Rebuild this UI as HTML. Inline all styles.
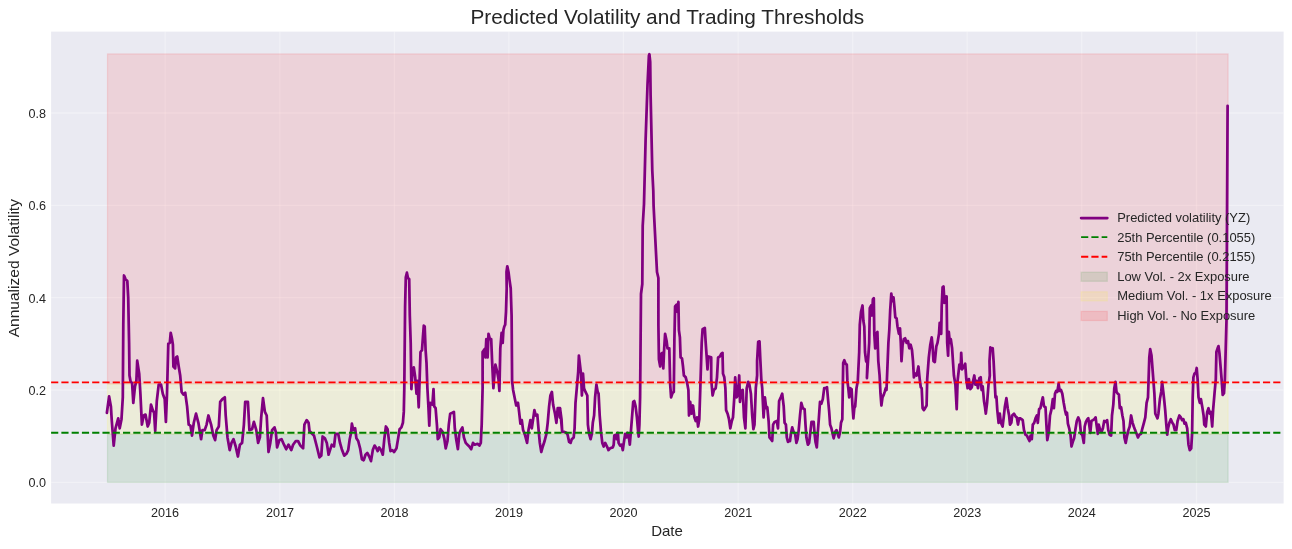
<!DOCTYPE html>
<html><head><meta charset="utf-8"><title>Predicted Volatility and Trading Thresholds</title>
<style>html,body{margin:0;padding:0;background:#fff}svg{display:block}text{font-family:"Liberation Sans",Arial,sans-serif;fill:#262626}</style></head><body>
<svg width="1292" height="549" viewBox="0 0 1292 549">
<rect x="0" y="0" width="1292" height="549" fill="#ffffff"/>
<rect x="51.1" y="31.6" width="1232.5" height="471.9" fill="#eaeaf2"/>
<g stroke="#ffffff" stroke-opacity="0.32" stroke-width="1.29">
<line x1="165.1" y1="31.6" x2="165.1" y2="503.5"/>
<line x1="279.9" y1="31.6" x2="279.9" y2="503.5"/>
<line x1="394.4" y1="31.6" x2="394.4" y2="503.5"/>
<line x1="508.9" y1="31.6" x2="508.9" y2="503.5"/>
<line x1="623.4" y1="31.6" x2="623.4" y2="503.5"/>
<line x1="738.2" y1="31.6" x2="738.2" y2="503.5"/>
<line x1="852.7" y1="31.6" x2="852.7" y2="503.5"/>
<line x1="967.2" y1="31.6" x2="967.2" y2="503.5"/>
<line x1="1081.7" y1="31.6" x2="1081.7" y2="503.5"/>
<line x1="1196.5" y1="31.6" x2="1196.5" y2="503.5"/>
<line x1="51.1" y1="482.35" x2="1283.6" y2="482.35"/>
<line x1="51.1" y1="390.01" x2="1283.6" y2="390.01"/>
<line x1="51.1" y1="297.67" x2="1283.6" y2="297.67"/>
<line x1="51.1" y1="205.33" x2="1283.6" y2="205.33"/>
<line x1="51.1" y1="112.99" x2="1283.6" y2="112.99"/>
</g>
<rect x="107.5" y="434.10" width="1120.6" height="48.25" fill="#008000" fill-opacity="0.1" stroke="#008000" stroke-opacity="0.1" stroke-width="1.29"/>
<rect x="107.5" y="383.90" width="1120.6" height="50.20" fill="#ffff00" fill-opacity="0.1" stroke="#ffff00" stroke-opacity="0.1" stroke-width="1.29"/>
<rect x="107.5" y="53.90" width="1120.6" height="330.00" fill="#ff0000" fill-opacity="0.1" stroke="#ff0000" stroke-opacity="0.1" stroke-width="1.29"/>
<path d="M106.9,412.8 L109.1,396.4 L110.9,406.4 L111.8,421.0 L113.7,445.6 L115.5,428.3 L118.2,418.3 L119.7,428.3 L121.5,419.2 L122.8,397.3 L123.3,324.6 L124.0,275.5 L125.5,279.1 L127.3,280.9 L128.2,297.3 L129.1,342.9 L129.5,375.5 L130.6,381.8 L132.1,382.8 L133.3,402.8 L135.0,386.4 L136.4,380.9 L137.2,360.7 L139.2,373.6 L140.4,393.7 L141.9,424.6 L143.7,415.5 L145.5,414.6 L147.7,426.5 L149.2,422.8 L151.0,404.6 L152.8,410.1 L154.1,412.8 L155.2,431.0 L156.8,401.0 L158.7,384.6 L161.0,384.6 L162.8,393.7 L164.7,399.1 L165.9,421.9 L167.0,393.7 L168.3,343.8 L169.8,342.9 L170.7,332.8 L171.9,338.3 L172.9,344.7 L173.4,366.5 L175.1,368.4 L176.1,357.4 L177.2,356.5 L178.7,366.5 L180.2,375.5 L181.6,391.9 L183.4,394.6 L185.2,392.8 L187.1,406.4 L188.7,424.6 L190.5,425.6 L192.0,435.6 L193.8,422.8 L196.0,413.7 L198.4,422.8 L201.1,439.2 L202.4,430.1 L204.7,430.1 L206.6,424.6 L208.4,415.5 L211.1,424.6 L213.3,435.6 L215.1,440.1 L216.6,430.1 L218.8,426.5 L220.2,401.9 L222.4,399.1 L224.8,397.3 L225.7,415.5 L227.5,437.4 L229.7,450.1 L231.5,442.9 L233.5,439.2 L235.7,446.5 L237.9,456.5 L239.9,444.7 L242.1,442.9 L243.9,424.6 L245.2,401.9 L247.9,401.9 L249.4,430.1 L252.1,429.2 L253.9,421.9 L256.3,430.1 L258.1,442.9 L259.9,437.4 L261.2,417.4 L263.0,398.2 L264.9,411.9 L266.7,415.5 L268.5,452.0 L270.3,442.9 L272.1,430.1 L274.5,427.4 L275.8,431.9 L277.1,447.4 L279.4,440.1 L281.6,439.2 L284.0,444.7 L286.2,449.2 L288.5,444.7 L291.3,450.1 L293.1,444.7 L295.8,441.0 L298.0,441.0 L300.4,445.6 L303.1,448.3 L304.4,424.6 L306.7,420.1 L308.6,422.8 L309.5,431.0 L312.2,433.8 L314.0,435.6 L316.8,446.5 L319.5,457.4 L321.3,455.6 L322.6,436.5 L324.9,438.3 L326.8,442.9 L328.6,454.7 L330.0,450.1 L331.8,444.7 L334.0,446.5 L335.5,433.8 L338.2,433.8 L340.0,442.9 L341.8,449.2 L344.2,455.6 L346.4,453.8 L348.2,450.1 L349.7,439.2 L350.9,433.8 L351.9,423.7 L353.3,430.1 L355.1,428.3 L356.4,438.3 L358.2,441.0 L360.1,448.3 L361.9,459.2 L363.7,460.2 L365.5,454.7 L367.3,452.9 L369.2,456.5 L371.0,461.1 L372.8,450.1 L374.6,445.6 L376.4,448.3 L377.7,451.1 L379.2,447.4 L381.0,450.1 L382.8,454.7 L384.3,439.2 L385.9,426.5 L387.6,429.2 L389.2,442.9 L390.5,451.1 L392.3,450.1 L394.1,452.0 L396.5,448.3 L398.3,437.4 L399.6,429.2 L401.4,427.4 L402.9,422.8 L403.8,411.9 L404.3,388.2 L405.1,306.4 L405.8,277.3 L406.9,272.7 L408.0,278.2 L409.2,279.1 L409.8,315.5 L410.7,342.9 L411.4,389.1 L412.3,373.6 L413.8,367.4 L415.2,377.3 L416.5,393.7 L417.4,380.9 L418.7,407.3 L420.5,352.0 L422.0,350.1 L422.9,337.4 L423.8,325.6 L424.7,326.5 L425.6,350.1 L426.5,362.9 L427.4,388.2 L428.4,406.4 L429.3,425.6 L430.2,402.8 L432.4,404.6 L433.5,389.1 L434.2,406.4 L435.6,408.2 L436.9,424.6 L437.8,439.2 L439.3,437.4 L440.6,429.2 L442.6,431.9 L444.4,439.2 L445.7,448.3 L447.5,441.0 L448.8,424.6 L450.2,413.7 L452.4,412.8 L453.9,411.9 L454.8,428.3 L456.2,439.2 L457.9,449.2 L459.3,433.8 L460.8,430.1 L462.4,427.4 L463.9,437.4 L465.7,442.9 L467.5,444.7 L469.3,446.5 L471.2,449.2 L473.0,442.9 L474.8,444.7 L477.5,443.8 L479.4,445.6 L480.8,442.9 L481.7,424.6 L482.6,388.2 L482.6,352.0 L484.5,349.2 L485.4,357.4 L486.3,339.2 L487.6,357.4 L488.5,333.8 L489.9,339.2 L491.2,339.2 L492.1,361.1 L493.4,388.2 L494.5,373.6 L495.4,364.7 L497.2,371.8 L498.5,379.1 L499.4,390.9 L500.3,348.3 L501.6,332.8 L502.7,342.9 L503.4,330.1 L504.3,326.5 L505.2,324.6 L506.0,311.9 L506.7,288.2 L506.5,272.0 L507.3,266.3 L508.5,272.0 L509.4,279.1 L510.7,288.2 L511.6,315.5 L512.1,380.9 L513.1,390.0 L514.9,399.1 L516.2,405.5 L518.0,402.8 L519.1,411.9 L520.4,423.7 L521.8,420.1 L523.1,430.1 L524.9,434.7 L527.1,442.9 L528.5,430.1 L530.4,420.1 L531.8,428.3 L533.1,419.2 L534.4,410.1 L535.8,415.5 L537.3,414.6 L538.6,430.1 L539.8,442.9 L541.3,452.0 L542.8,446.5 L544.6,441.0 L546.4,433.8 L547.7,422.8 L549.1,406.4 L550.4,395.5 L551.9,391.9 L553.1,404.6 L555.0,413.7 L556.4,422.8 L557.7,408.2 L559.1,408.2 L559.9,417.4 L561.3,419.2 L562.2,431.9 L560.0,408.2 L561.5,419.2 L562.2,431.9 L564.5,431.9 L566.4,432.8 L567.6,434.7 L569.1,441.9 L570.6,442.9 L571.8,439.2 L573.7,437.4 L574.6,428.3 L575.5,402.8 L576.8,388.2 L578.2,371.8 L578.9,355.6 L581.0,373.6 L581.9,395.5 L583.0,373.6 L584.0,388.2 L585.5,391.9 L587.3,395.5 L587.9,424.6 L589.1,433.8 L590.6,439.2 L591.9,433.8 L592.8,422.8 L594.1,415.5 L595.1,397.3 L596.4,384.6 L597.7,391.9 L598.6,393.7 L599.7,415.5 L601.0,431.9 L602.3,442.9 L603.7,446.5 L605.2,442.9 L607.0,446.5 L608.5,450.1 L610.1,448.3 L612.8,447.4 L613.7,444.7 L614.3,435.6 L616.1,434.7 L616.8,439.2 L617.9,432.8 L618.6,442.9 L620.1,445.6 L621.6,444.7 L622.8,450.1 L623.8,442.9 L625.2,433.8 L626.5,437.4 L627.4,432.8 L628.9,437.4 L629.8,444.7 L631.0,430.1 L632.0,417.4 L633.2,401.9 L634.3,401.0 L635.6,406.4 L636.9,417.4 L638.0,430.1 L638.7,436.5 L639.4,424.6 L640.1,397.3 L641.0,294.0 L642.3,284.0 L642.7,226.0 L644.0,204.0 L645.6,140.0 L647.5,85.0 L648.9,55.7 L649.4,54.2 L650.2,62.0 L650.6,95.0 L651.6,140.0 L652.3,171.0 L653.3,191.0 L653.6,206.0 L655.6,245.0 L657.0,272.0 L658.4,278.0 L658.4,325.0 L658.9,359.2 L660.2,366.5 L661.1,353.8 L662.4,352.9 L663.3,368.4 L664.2,348.3 L665.1,333.8 L666.6,341.0 L667.5,348.3 L669.3,348.3 L670.2,384.6 L671.1,397.3 L672.6,392.8 L673.8,391.9 L674.4,339.2 L675.1,306.4 L676.6,304.6 L677.5,311.9 L678.4,301.9 L678.9,330.1 L679.9,337.4 L680.6,357.4 L682.0,358.3 L683.0,366.5 L683.9,375.5 L685.7,377.3 L687.1,382.8 L688.4,390.0 L689.0,415.5 L690.2,401.9 L691.5,413.7 L693.0,405.5 L694.4,417.4 L695.7,421.0 L697.0,417.4 L698.1,426.5 L699.3,419.2 L700.3,388.2 L701.7,342.9 L702.6,329.2 L704.8,327.9 L705.7,342.9 L706.6,355.6 L707.5,369.3 L708.5,356.5 L711.2,357.4 L711.2,379.1 L712.6,395.5 L713.9,390.0 L715.7,388.2 L717.0,377.3 L718.1,357.4 L719.9,356.5 L721.2,353.8 L722.5,352.9 L723.0,373.6 L724.3,377.3 L725.4,388.2 L726.1,410.1 L727.6,413.7 L729.0,419.2 L730.3,428.3 L731.8,421.0 L733.0,417.4 L734.3,397.3 L735.2,377.3 L736.7,397.3 L738.1,393.7 L739.2,375.5 L740.0,401.9 L741.2,390.9 L742.7,390.0 L744.0,417.4 L745.4,428.3 L746.7,388.2 L748.2,381.8 L749.4,384.6 L750.9,393.7 L752.2,415.5 L753.4,429.2 L754.5,424.6 L755.8,388.2 L757.1,375.5 L757.1,361.1 L758.2,341.9 L759.5,341.4 L760.4,361.1 L761.3,379.1 L762.2,388.2 L763.6,417.4 L764.9,397.3 L766.2,408.2 L767.3,407.3 L768.6,421.0 L769.5,437.4 L770.9,439.2 L772.2,441.0 L773.1,424.6 L774.6,421.9 L776.8,421.0 L778.0,428.3 L779.1,401.0 L780.8,397.3 L782.2,393.7 L783.7,406.4 L784.6,422.8 L785.9,424.6 L786.8,437.4 L788.0,441.9 L789.5,440.1 L790.0,441.0 L790.9,433.8 L792.2,427.4 L793.6,431.9 L795.1,433.8 L796.4,442.9 L797.6,439.2 L798.7,430.1 L800.0,415.5 L801.3,402.8 L802.8,408.2 L804.6,409.2 L805.5,424.6 L806.4,437.4 L807.9,444.7 L809.1,442.9 L810.4,431.9 L811.5,421.9 L813.7,421.9 L814.6,433.8 L815.5,441.9 L816.8,447.4 L817.7,433.8 L818.8,419.2 L820.0,401.9 L821.3,403.7 L822.8,399.1 L824.2,388.2 L825.5,388.2 L827.0,387.3 L828.2,401.0 L829.2,411.9 L830.1,424.6 L831.4,428.3 L832.4,432.8 L833.7,438.3 L835.2,431.9 L836.5,430.1 L837.7,433.8 L838.8,437.4 L840.1,431.9 L841.0,422.8 L842.3,419.2 L842.8,388.2 L843.2,362.9 L844.3,360.2 L845.6,363.8 L846.8,364.7 L847.4,380.9 L848.3,388.2 L849.2,397.3 L850.1,388.2 L851.6,389.1 L852.5,406.4 L853.4,418.3 L854.3,408.2 L855.2,406.4 L856.5,388.2 L857.8,380.9 L859.2,352.0 L859.8,324.6 L861.0,311.9 L862.5,305.5 L863.4,321.0 L864.3,326.5 L865.0,352.0 L866.1,361.1 L867.4,362.9 L866.9,378.2 L869.2,342.9 L869.8,308.2 L871.1,305.5 L872.0,315.5 L872.9,299.1 L873.8,298.2 L874.3,333.8 L875.2,348.3 L876.2,333.8 L877.4,331.9 L878.3,361.1 L879.6,375.5 L880.5,393.7 L881.4,405.5 L882.5,397.3 L883.8,394.6 L884.7,391.9 L885.8,388.2 L886.5,390.0 L888.4,342.9 L889.3,330.1 L890.2,310.1 L891.3,293.7 L892.4,301.0 L893.5,297.3 L894.4,306.4 L895.3,317.4 L896.6,318.3 L897.5,326.5 L898.9,333.8 L900.0,328.3 L900.8,342.9 L901.5,361.1 L902.6,344.7 L903.8,339.2 L905.1,338.3 L906.6,342.9 L908.0,341.0 L909.3,348.3 L910.6,344.7 L912.0,350.1 L913.0,361.1 L913.9,377.3 L915.3,373.6 L916.6,375.5 L918.4,366.5 L919.7,379.1 L920.8,387.3 L921.7,388.2 L922.6,408.2 L923.9,410.1 L925.1,408.2 L926.6,405.5 L927.2,379.1 L928.8,357.4 L930.3,344.7 L931.7,337.4 L932.6,346.5 L933.5,361.1 L934.8,362.0 L936.3,346.5 L937.5,342.9 L939.0,333.8 L939.7,322.8 L941.2,333.8 L941.7,306.4 L942.6,287.3 L943.5,286.4 L944.5,302.8 L945.4,297.3 L946.6,296.4 L947.2,342.9 L948.1,355.6 L948.8,331.9 L949.9,342.9 L950.8,339.2 L952.1,348.3 L953.9,375.5 L955.4,384.6 L956.7,409.2 L957.6,380.9 L959.4,364.7 L960.7,368.4 L961.2,352.9 L962.1,369.3 L964.0,366.5 L965.2,363.8 L966.3,379.1 L967.6,388.2 L968.9,379.1 L970.3,389.1 L971.8,387.3 L973.1,380.9 L974.3,375.5 L975.4,384.6 L976.7,380.9 L978.0,388.2 L979.4,378.2 L980.7,377.3 L981.6,390.0 L982.7,386.4 L984.0,401.0 L984.9,406.4 L985.8,413.7 L987.1,402.8 L988.5,384.6 L989.8,375.5 L989.5,361.1 L990.4,347.4 L991.8,350.1 L992.7,348.3 L993.6,361.1 L994.5,379.1 L995.5,397.3 L996.4,396.4 L997.3,410.1 L998.6,422.8 L999.8,413.7 L1000.9,422.8 L1002.6,426.5 L1003.7,417.4 L1004.9,406.4 L1006.4,398.2 L1007.7,408.2 L1009.1,415.5 L1010.0,424.6 L1011.3,422.8 L1012.2,415.5 L1014.0,413.7 L1015.5,416.4 L1016.8,417.4 L1018.0,424.6 L1019.1,418.3 L1020.0,418.3 L1021.5,419.2 L1022.7,420.1 L1024.0,430.1 L1025.5,434.7 L1026.9,435.6 L1028.2,438.3 L1029.5,441.0 L1030.6,435.6 L1031.8,439.2 L1032.8,424.6 L1034.2,422.8 L1035.5,418.3 L1036.8,415.5 L1037.8,422.8 L1039.1,409.2 L1040.4,408.2 L1041.5,402.8 L1042.8,397.3 L1044.0,406.4 L1045.5,407.3 L1046.4,424.6 L1047.3,440.1 L1048.8,431.9 L1050.0,415.5 L1051.3,410.1 L1052.8,399.1 L1053.9,408.2 L1055.0,393.7 L1056.1,390.9 L1057.3,391.9 L1058.6,383.7 L1059.7,390.9 L1061.0,390.0 L1062.3,393.7 L1063.7,402.8 L1065.0,410.1 L1066.1,414.6 L1067.0,412.8 L1067.9,423.7 L1069.2,428.3 L1070.6,435.6 L1071.5,446.5 L1072.8,441.9 L1074.1,438.3 L1075.6,428.3 L1076.8,421.0 L1078.3,417.4 L1079.7,421.0 L1081.0,433.8 L1082.3,434.7 L1083.8,442.9 L1084.7,426.5 L1085.9,421.9 L1087.4,419.2 L1088.3,418.3 L1089.2,424.6 L1090.3,432.8 L1091.4,421.0 L1092.9,420.1 L1094.3,419.2 L1095.6,417.4 L1096.5,424.6 L1097.8,433.8 L1098.7,424.6 L1100.2,430.1 L1101.6,431.9 L1102.9,428.3 L1104.2,421.0 L1105.6,421.9 L1107.1,420.1 L1108.3,430.1 L1109.6,434.7 L1111.1,435.6 L1112.0,415.5 L1113.3,404.6 L1114.3,388.2 L1115.5,381.8 L1116.5,391.9 L1117.8,393.7 L1118.9,394.6 L1119.8,408.2 L1121.1,407.3 L1122.4,415.5 L1123.5,421.0 L1124.4,437.4 L1125.7,442.9 L1127.1,435.6 L1128.4,430.1 L1129.7,426.5 L1131.1,415.5 L1132.6,422.8 L1133.8,426.5 L1135.1,430.1 L1136.6,433.8 L1138.0,437.4 L1139.3,434.7 L1141.1,433.8 L1142.4,428.3 L1143.9,422.8 L1145.3,417.4 L1146.6,402.8 L1148.0,397.3 L1149.3,357.4 L1150.2,349.2 L1151.5,355.6 L1153.3,379.1 L1154.4,393.7 L1155.3,413.7 L1156.6,416.4 L1157.5,418.3 L1158.4,413.7 L1159.9,399.1 L1161.2,391.9 L1162.1,381.8 L1163.3,391.9 L1164.3,401.0 L1165.2,410.1 L1166.3,424.6 L1167.2,434.7 L1168.1,428.3 L1169.4,422.8 L1170.8,419.2 L1172.3,422.8 L1173.5,424.6 L1174.8,430.1 L1176.3,430.1 L1177.6,421.0 L1179.4,415.5 L1180.8,417.4 L1182.1,420.1 L1183.4,419.2 L1184.5,423.7 L1185.8,422.8 L1187.2,428.3 L1188.5,444.7 L1189.8,450.1 L1191.2,448.3 L1192.1,433.8 L1192.7,397.3 L1193.4,377.3 L1194.5,373.6 L1195.8,372.7 L1196.7,368.0 L1197.6,379.1 L1198.5,397.3 L1199.8,402.8 L1200.9,399.1 L1202.2,406.4 L1203.6,415.5 L1204.3,424.6 L1205.8,426.5 L1207.2,411.9 L1208.5,408.2 L1209.8,413.7 L1210.9,411.9 L1212.2,426.5 L1213.1,410.1 L1214.5,393.7 L1215.8,379.1 L1216.4,352.0 L1217.6,348.3 L1218.5,346.1 L1219.5,353.8 L1221.6,379.1 L1222.7,394.8 L1224.0,393.1 L1224.9,379.1 L1226.5,320.0 L1227.6,105.8" fill="none" stroke="#800080" stroke-width="2.75" stroke-linejoin="round" stroke-linecap="round"/>
<line x1="51.1" y1="432.70" x2="1283.3" y2="432.70" stroke="#008000" stroke-width="1.94" stroke-dasharray="7.17 3.1"/>
<line x1="51.1" y1="382.40" x2="1283.3" y2="382.40" stroke="#ff0000" stroke-width="1.94" stroke-dasharray="7.17 3.1"/>
<text x="667.3" y="23.8" font-size="20.8" text-anchor="middle">Predicted Volatility and Trading Thresholds</text>
<text x="165.1" y="517.3" font-size="12.6" text-anchor="middle">2016</text>
<text x="279.9" y="517.3" font-size="12.6" text-anchor="middle">2017</text>
<text x="394.4" y="517.3" font-size="12.6" text-anchor="middle">2018</text>
<text x="508.9" y="517.3" font-size="12.6" text-anchor="middle">2019</text>
<text x="623.4" y="517.3" font-size="12.6" text-anchor="middle">2020</text>
<text x="738.2" y="517.3" font-size="12.6" text-anchor="middle">2021</text>
<text x="852.7" y="517.3" font-size="12.6" text-anchor="middle">2022</text>
<text x="967.2" y="517.3" font-size="12.6" text-anchor="middle">2023</text>
<text x="1081.7" y="517.3" font-size="12.6" text-anchor="middle">2024</text>
<text x="1196.5" y="517.3" font-size="12.6" text-anchor="middle">2025</text>
<text x="46.0" y="487.2" font-size="12.6" text-anchor="end">0.0</text>
<text x="46.0" y="394.8" font-size="12.6" text-anchor="end">0.2</text>
<text x="46.0" y="302.5" font-size="12.6" text-anchor="end">0.4</text>
<text x="46.0" y="210.1" font-size="12.6" text-anchor="end">0.6</text>
<text x="46.0" y="117.8" font-size="12.6" text-anchor="end">0.8</text>
<text x="667.0" y="536.4" font-size="15.0" text-anchor="middle">Date</text>
<text transform="translate(19.0,268.2) rotate(-90)" font-size="15.56" text-anchor="middle">Annualized Volatility</text>
<line x1="1081.1" y1="218.0" x2="1107.3" y2="218.0" stroke="#800080" stroke-width="2.75" stroke-linecap="round"/>
<line x1="1081.1" y1="237.1" x2="1107.3" y2="237.1" stroke="#008000" stroke-width="1.94" stroke-dasharray="7.17 3.1"/>
<line x1="1081.1" y1="256.7" x2="1107.3" y2="256.7" stroke="#ff0000" stroke-width="1.94" stroke-dasharray="7.17 3.1"/>
<rect x="1081.1" y="272.2" width="26.2" height="9.1" fill="#008000" fill-opacity="0.1" stroke="#008000" stroke-opacity="0.1" stroke-width="1.29"/>
<rect x="1081.1" y="291.8" width="26.2" height="9.1" fill="#ffff00" fill-opacity="0.1" stroke="#ffff00" stroke-opacity="0.1" stroke-width="1.29"/>
<rect x="1081.1" y="311.4" width="26.2" height="9.1" fill="#ff0000" fill-opacity="0.1" stroke="#ff0000" stroke-opacity="0.1" stroke-width="1.29"/>
<text x="1117.2" y="221.9" font-size="12.95">Predicted volatility (YZ)</text>
<text x="1117.2" y="241.5" font-size="12.95">25th Percentile (0.1055)</text>
<text x="1117.2" y="261.1" font-size="12.95">75th Percentile (0.2155)</text>
<text x="1117.2" y="280.7" font-size="12.95">Low Vol. - 2x Exposure</text>
<text x="1117.2" y="300.3" font-size="12.95">Medium Vol. - 1x Exposure</text>
<text x="1117.2" y="319.9" font-size="12.95">High Vol. - No Exposure</text>
</svg></body></html>
